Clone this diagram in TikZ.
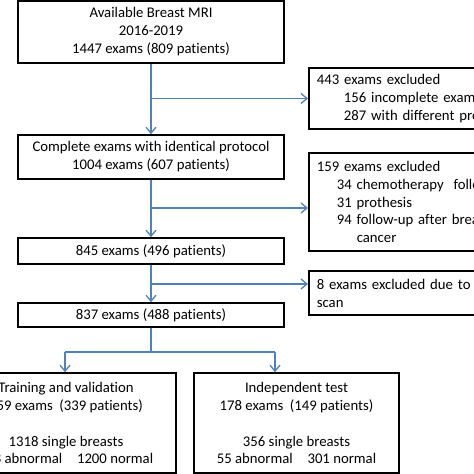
\documentclass[tikz,border=0pt]{standalone}
\usepackage{fontspec}
\setmainfont{Carlito}[Ligatures={NoCommon}]
\usetikzlibrary{arrows.meta}
\definecolor{flowblue}{HTML}{4F81BD}
\begin{document}
\begin{tikzpicture}[x=1bp,y=-1bp,
  box/.style={draw=black,line width=1.6bp,fill=white,inner sep=0pt,align=center,
    font=\fontsize{14.8}{18}\selectfont},
  sidebox/.style={box,align=left,inner xsep=8bp,text width=196bp,anchor=west},
  arr/.style={draw=flowblue,line width=1.3bp,-{Straight Barb[length=6bp,width=10bp]}},
  ln/.style={draw=flowblue,line width=1.3bp}]
\useasboundingbox (0,0) rectangle (474,474);
\clip (0,0) rectangle (474,474);
% main column
\node[box,minimum width=266bp,minimum height=62bp] (b1) at (151,32)
  {Available Breast MRI\\2016-2019\\1447 exams (809 patients)};
\node[box,minimum width=266bp,minimum height=44bp] (b2) at (151,157)
  {Complete exams with identical protocol\\1004 exams (607 patients)};
\node[box,minimum width=266bp,minimum height=26bp] (b3) at (151,251)
  {845 exams (496 patients)};
\node[box,minimum width=266bp,minimum height=24bp] (b4) at (151,315)
  {837 exams (488 patients)};
% side boxes
\node[sidebox,minimum height=61bp] (r1) at (308,98.5)
  {443 exams excluded\\\hspace*{27bp}156 incomplete exams\\\hspace*{27bp}287 with different protocol};
\node[sidebox,minimum height=98bp] (r2) at (308,202)
  {159 exams excluded\\\hspace*{20bp}34 chemotherapy\ \ follow-up\\\hspace*{20bp}31 prothesis\\\hspace*{20bp}94 follow-up after breast\\\hspace*{40bp}cancer};
\node[sidebox,minimum height=44bp] (r3) at (308,293)
  {8 exams excluded due to failed\\scan};
% bottom boxes
\node[box,minimum width=220bp,minimum height=100bp] (b5) at (66,423)
  {Training and validation\\659 exams\ \ (339 patients)\\\mbox{}\\1318 single breasts\\118 abnormal\quad 1200 normal};
\node[box,minimum width=205bp,minimum height=100bp] (b6) at (296.5,423)
  {Independent test\\178 exams\ \ (149 patients)\\\mbox{}\\356 single breasts\\55 abnormal\quad 301 normal};
% connectors
\draw[arr] (b1.south) -- (b2.north);
\draw[arr] (b1.south |- r1.west) -- (r1.west);
\draw[arr] (b2.south) -- (b3.north);
\draw[arr] (151,208) -- (r2.west |- 0,208);
\draw[arr] (b3.south) -- (b4.north);
\draw[arr] (151,284) -- (r3.west |- 0,284);
\coordinate (split) at (151,352);
\coordinate (sl) at (65,352);
\coordinate (sr) at (275,352);
\draw[ln] (b4.south) -- (split);
\draw[ln] (sl) -- (sr);
\draw[arr] (sl) -- (sl |- b5.north);
\draw[arr] (sr) -- (sr |- b6.north);
\end{tikzpicture}
\end{document}
